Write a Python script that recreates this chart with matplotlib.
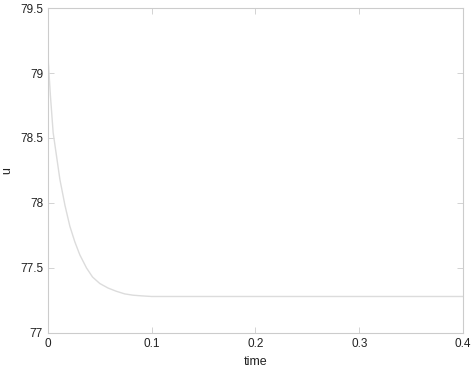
import matplotlib
matplotlib.use("Agg")
import matplotlib.pyplot as plt

# valores
t = [0.0, 0.0025, 0.0051, 0.0116, 0.0165, 0.0212, 0.026, 0.0308, 0.0372, 0.043,
     0.050, 0.058, 0.066, 0.074, 0.082, 0.090, 0.100, 0.20, 0.30, 0.40]
u = [79.14, 78.82, 78.54, 78.18, 77.98, 77.82, 77.70, 77.60, 77.50, 77.43,
     77.38, 77.345, 77.32, 77.30, 77.29, 77.285, 77.28, 77.28, 77.28, 77.28]

XTICKS = [0, 0.1, 0.2, 0.3, 0.4]
XTICKLABELS = ["0", "0.1", "0.2", "0.3", "0.4"]
YTICKS = [77, 77.5, 78, 78.5, 79, 79.5]
YTICKLABELS = ["77", "77.5", "78", "78.5", "79", "79.5"]

plt.rcParams['font.family'] = ['Liberation Sans', 'DejaVu Sans']

fig = plt.figure(figsize=(4.74, 3.67), dpi=100)
ax = fig.add_axes([0.101, 0.093, 0.876, 0.885])

ax.plot(t, u, color='#dcdcdc', lw=1.0)

ax.set_xlim(0, 0.4)
ax.set_ylim(77, 79.5)
ax.set_xticks(XTICKS)
ax.set_xticklabels(XTICKLABELS)
ax.set_yticks(YTICKS)
ax.set_yticklabels(YTICKLABELS)

for s in ax.spines.values():
    s.set_color('#cccccc')
    s.set_linewidth(0.8)
ax.tick_params(direction='in', length=4, width=0.6, color='#cccccc',
               labelsize=8.5, labelcolor='#222222', top=True, right=True)
ax.tick_params(axis='x', pad=4)
ax.tick_params(axis='y', pad=3.5)

ax.set_xlabel('time', fontsize=9, color='#222222', labelpad=4)
ax.set_ylabel('u', fontsize=9, color='#222222')
ax.yaxis.set_label_coords(-0.083, 0.5)

fig.savefig('out.png', dpi=100)
